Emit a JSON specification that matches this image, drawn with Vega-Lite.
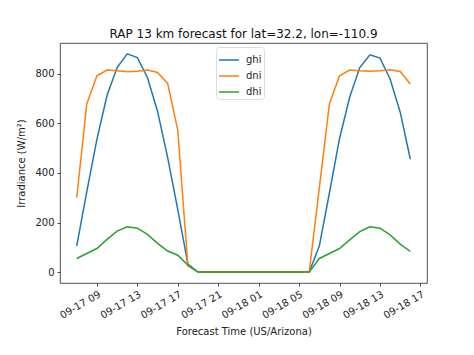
{
  "$schema": "https://vega.github.io/schema/vega-lite/v6.json",
  "autosize": {"type": "none"},
  "width": 367,
  "height": 240,
  "padding": {"left": 60, "top": 43, "right": 47, "bottom": 72},
  "config": {
    "font": "DejaVu Sans",
    "view": {"stroke": "#222", "strokeWidth": 0.8},
    "axis": {"grid": false, "domain": false, "tickColor": "#222", "tickSize": 3, "tickWidth": 0.8, "labelColor": "#222", "titleColor": "#222", "labelFontSize": 10, "titleFontSize": 10, "titleFontWeight": "normal"}
  },
  "title": {"text": "RAP 13 km forecast for lat=32.2, lon=-110.9", "fontSize": 12, "fontWeight": "normal", "color": "#111", "offset": 2},
  "data": {"values": [
    {"time": "2019-09-17T07:00:00", "ghi": 105, "dni": 300, "dhi": 55},
    {"time": "2019-09-17T08:00:00", "ghi": 325, "dni": 678, "dhi": 75},
    {"time": "2019-09-17T09:00:00", "ghi": 535, "dni": 792, "dhi": 95},
    {"time": "2019-09-17T10:00:00", "ghi": 712, "dni": 815, "dhi": 132},
    {"time": "2019-09-17T11:00:00", "ghi": 825, "dni": 812, "dhi": 165},
    {"time": "2019-09-17T12:00:00", "ghi": 880, "dni": 808, "dhi": 183},
    {"time": "2019-09-17T13:00:00", "ghi": 865, "dni": 810, "dhi": 177},
    {"time": "2019-09-17T14:00:00", "ghi": 785, "dni": 815, "dhi": 152},
    {"time": "2019-09-17T15:00:00", "ghi": 648, "dni": 805, "dhi": 116},
    {"time": "2019-09-17T16:00:00", "ghi": 462, "dni": 761, "dhi": 85},
    {"time": "2019-09-17T17:00:00", "ghi": 252, "dni": 572, "dhi": 68},
    {"time": "2019-09-17T18:00:00", "ghi": 32, "dni": 25, "dhi": 28},
    {"time": "2019-09-17T19:00:00", "ghi": 0, "dni": 0, "dhi": 0},
    {"time": "2019-09-17T20:00:00", "ghi": 0, "dni": 0, "dhi": 0},
    {"time": "2019-09-17T21:00:00", "ghi": 0, "dni": 0, "dhi": 0},
    {"time": "2019-09-17T22:00:00", "ghi": 0, "dni": 0, "dhi": 0},
    {"time": "2019-09-17T23:00:00", "ghi": 0, "dni": 0, "dhi": 0},
    {"time": "2019-09-18T00:00:00", "ghi": 0, "dni": 0, "dhi": 0},
    {"time": "2019-09-18T01:00:00", "ghi": 0, "dni": 0, "dhi": 0},
    {"time": "2019-09-18T02:00:00", "ghi": 0, "dni": 0, "dhi": 0},
    {"time": "2019-09-18T03:00:00", "ghi": 0, "dni": 0, "dhi": 0},
    {"time": "2019-09-18T04:00:00", "ghi": 0, "dni": 0, "dhi": 0},
    {"time": "2019-09-18T05:00:00", "ghi": 0, "dni": 0, "dhi": 0},
    {"time": "2019-09-18T06:00:00", "ghi": 0, "dni": 0, "dhi": 0},
    {"time": "2019-09-18T07:00:00", "ghi": 105, "dni": 340, "dhi": 55},
    {"time": "2019-09-18T08:00:00", "ghi": 320, "dni": 679, "dhi": 75},
    {"time": "2019-09-18T09:00:00", "ghi": 539, "dni": 792, "dhi": 95},
    {"time": "2019-09-18T10:00:00", "ghi": 705, "dni": 815, "dhi": 130},
    {"time": "2019-09-18T11:00:00", "ghi": 825, "dni": 812, "dhi": 163},
    {"time": "2019-09-18T12:00:00", "ghi": 876, "dni": 810, "dhi": 183},
    {"time": "2019-09-18T13:00:00", "ghi": 863, "dni": 812, "dhi": 177},
    {"time": "2019-09-18T14:00:00", "ghi": 779, "dni": 816, "dhi": 150},
    {"time": "2019-09-18T15:00:00", "ghi": 645, "dni": 809, "dhi": 113},
    {"time": "2019-09-18T16:00:00", "ghi": 455, "dni": 759, "dhi": 83}
  ]},
  "transform": [{"fold": ["ghi", "dni", "dhi"], "as": ["series", "value"]}],
  "mark": {"type": "line", "strokeWidth": 1.5, "clip": true},
  "encoding": {
    "x": {
      "field": "time", "type": "temporal",
      "scale": {"domain": [
        {"year": 2019, "month": 9, "date": 17, "hours": 5, "minutes": 21},
        {"year": 2019, "month": 9, "date": 18, "hours": 17, "minutes": 39}
      ]},
      "axis": {
        "title": "Forecast Time (US/Arizona)",
        "format": "%m-%d %H",
        "labelAngle": -30, "labelAlign": "right", "labelBaseline": "top",
        "labelOverlap": false, "labelBound": false, "labelFlush": false,
        "labelPadding": 3, "titlePadding": 6,
        "values": [
          {"year": 2019, "month": 9, "date": 17, "hours": 9},
          {"year": 2019, "month": 9, "date": 17, "hours": 13},
          {"year": 2019, "month": 9, "date": 17, "hours": 17},
          {"year": 2019, "month": 9, "date": 17, "hours": 21},
          {"year": 2019, "month": 9, "date": 18, "hours": 1},
          {"year": 2019, "month": 9, "date": 18, "hours": 5},
          {"year": 2019, "month": 9, "date": 18, "hours": 9},
          {"year": 2019, "month": 9, "date": 18, "hours": 13},
          {"year": 2019, "month": 9, "date": 18, "hours": 17}
        ]
      }
    },
    "y": {
      "field": "value", "type": "quantitative",
      "scale": {"domain": [-44, 924], "nice": false, "zero": false},
      "axis": {"title": "Irradiance (W/m²)", "values": [0, 200, 400, 600, 800], "labelPadding": 3, "titlePadding": 8}
    },
    "color": {
      "field": "series", "type": "nominal",
      "scale": {"domain": ["ghi", "dni", "dhi"], "range": ["#1f77b4", "#ff7f0e", "#2ca02c"]},
      "legend": {
        "title": null, "orient": "none", "legendX": 156, "legendY": 4,
        "symbolType": "stroke", "symbolStrokeWidth": 1.5, "symbolSize": 400,
        "labelFontSize": 10, "labelColor": "#222", "rowPadding": -4, "labelOffset": 6,
        "padding": 2, "strokeColor": "#ddd", "cornerRadius": 3, "fillColor": "white"
      }
    }
  }
}
